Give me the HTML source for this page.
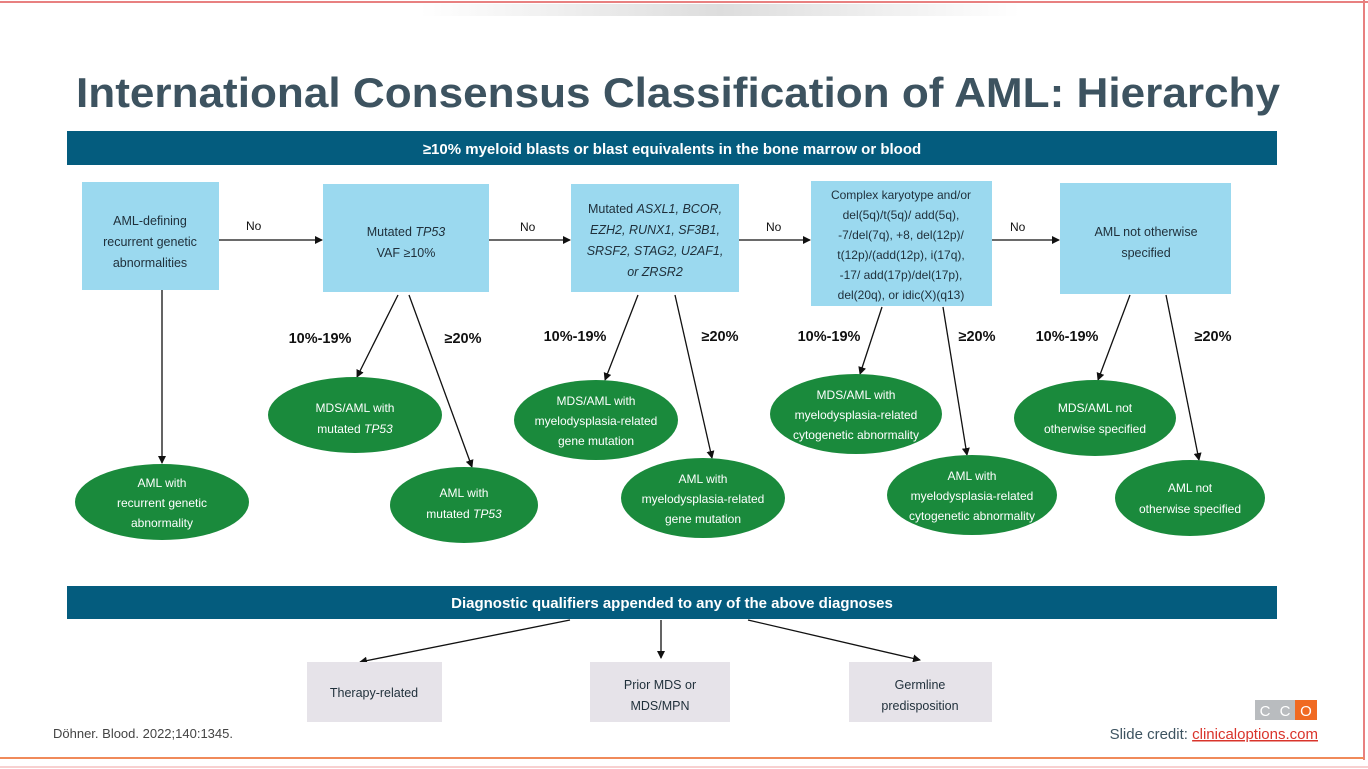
<!DOCTYPE html>
<html><head><meta charset="utf-8"><style>
html,body{margin:0;padding:0;background:#fff;}
svg{display:block;font-family:"Liberation Sans",sans-serif;}
</style></head><body>
<svg width="1368" height="769" viewBox="0 0 1368 769" xmlns="http://www.w3.org/2000/svg">
<defs>
<marker id="a" markerWidth="8" markerHeight="8" refX="7" refY="4" orient="auto" markerUnits="userSpaceOnUse"><path d="M0,0 L8,4 L0,8 z" fill="#111"/></marker>
<linearGradient id="g" x1="0" x2="1"><stop offset="0" stop-color="#fff"/><stop offset="0.5" stop-color="#ddd"/><stop offset="1" stop-color="#fff"/></linearGradient>
</defs>
<rect x="0" y="0" width="1368" height="769" fill="#fff"/>
<rect x="420" y="4" width="600" height="12" fill="url(#g)"/>
<line x1="0" y1="2" x2="1368" y2="2" stroke="#e88080" stroke-width="2"/>
<line x1="1364" y1="0" x2="1364" y2="760" stroke="#e88080" stroke-width="2"/>
<line x1="0" y1="758" x2="1364" y2="758" stroke="#f08a5a" stroke-width="2"/>
<line x1="0" y1="767" x2="1368" y2="767" stroke="#f0a0a0" stroke-width="1"/>

<text x="76" y="107" textLength="1204" lengthAdjust="spacingAndGlyphs" font-size="42" font-weight="bold" fill="#3d5360">International Consensus Classification of AML: Hierarchy</text>

<rect x="67" y="131" width="1210" height="34" fill="#045c7e"/>
<text x="672" y="154" text-anchor="middle" font-size="15" font-weight="bold" fill="#fff">≥10% myeloid blasts or blast equivalents in the bone marrow or blood</text>

<g fill="#9bd9ef">
<rect x="82" y="182" width="137" height="108"/>
<rect x="323" y="184" width="166" height="108"/>
<rect x="571" y="184" width="168" height="108"/>
<rect x="811" y="181" width="181" height="125"/>
<rect x="1060" y="183" width="171" height="111"/>
</g>
<g font-size="12.5" fill="#1f2f3a" text-anchor="middle">
<text x="150" y="225">AML-defining</text><text x="150" y="246">recurrent genetic</text><text x="150" y="267">abnormalities</text>
<text x="406" y="236">Mutated <tspan font-style="italic">TP53</tspan></text><text x="406" y="257">VAF ≥10%</text>
<text x="655" y="213">Mutated <tspan font-style="italic">ASXL1, BCOR,</tspan></text>
<text x="655" y="234" font-style="italic">EZH2, RUNX1, SF3B1,</text>
<text x="655" y="255" font-style="italic">SRSF2, STAG2, U2AF1,</text>
<text x="655" y="276"><tspan font-style="italic">or ZRSR2</tspan></text>
<g font-size="12"><text x="901" y="199">Complex karyotype and/or</text>
<text x="901" y="219">del(5q)/t(5q)/ add(5q),</text>
<text x="901" y="239">-7/del(7q), +8, del(12p)/</text>
<text x="901" y="259">t(12p)/(add(12p), i(17q),</text>
<text x="901" y="279">-17/ add(17p)/del(17p),</text>
<text x="901" y="299">del(20q), or idic(X)(q13)</text></g>
<text x="1146" y="236">AML not otherwise</text><text x="1146" y="257">specified</text>
</g>

<g stroke="#111" stroke-width="1.3" marker-end="url(#a)" fill="none">
<line x1="219" y1="240" x2="322" y2="240"/>
<line x1="489" y1="240" x2="570" y2="240"/>
<line x1="739" y1="240" x2="810" y2="240"/>
<line x1="992" y1="240" x2="1059" y2="240"/>
<line x1="162" y1="290" x2="162" y2="463"/>
<line x1="398" y1="295" x2="357" y2="377"/>
<line x1="409" y1="295" x2="472" y2="467"/>
<line x1="638" y1="295" x2="605" y2="380"/>
<line x1="675" y1="295" x2="712" y2="458"/>
<line x1="882" y1="307" x2="860" y2="374"/>
<line x1="943" y1="307" x2="967" y2="455"/>
<line x1="1130" y1="295" x2="1098" y2="380"/>
<line x1="1166" y1="295" x2="1199" y2="460"/>
<line x1="570" y1="620" x2="360" y2="662"/>
<line x1="661" y1="620" x2="661" y2="658"/>
<line x1="748" y1="620" x2="920" y2="660"/>
</g>
<g font-size="12" fill="#111">
<text x="246" y="230">No</text><text x="520" y="231">No</text><text x="766" y="231">No</text><text x="1010" y="231">No</text>
</g>
<g font-size="14.5" font-weight="bold" fill="#111" text-anchor="middle">
<text x="320" y="343">10%-19%</text><text x="463" y="343">≥20%</text>
<text x="575" y="341">10%-19%</text><text x="720" y="341">≥20%</text>
<text x="829" y="341">10%-19%</text><text x="977" y="341">≥20%</text>
<text x="1067" y="341">10%-19%</text><text x="1213" y="341">≥20%</text>
</g>

<g fill="#1a8a3c">
<ellipse cx="162" cy="502" rx="87" ry="38"/>
<ellipse cx="355" cy="415" rx="87" ry="38"/>
<ellipse cx="464" cy="505" rx="74" ry="38"/>
<ellipse cx="596" cy="420" rx="82" ry="40"/>
<ellipse cx="703" cy="498" rx="82" ry="40"/>
<ellipse cx="856" cy="414" rx="86" ry="40"/>
<ellipse cx="972" cy="495" rx="85" ry="40"/>
<ellipse cx="1095" cy="418" rx="81" ry="38"/>
<ellipse cx="1190" cy="498" rx="75" ry="38"/>
</g>
<g font-size="12" fill="#fff" text-anchor="middle">
<text x="162" y="487">AML with</text><text x="162" y="507">recurrent genetic</text><text x="162" y="527">abnormality</text>
<text x="355" y="412">MDS/AML with</text><text x="355" y="433">mutated <tspan font-style="italic">TP53</tspan></text>
<text x="464" y="497">AML with</text><text x="464" y="518">mutated <tspan font-style="italic">TP53</tspan></text>
<text x="596" y="405">MDS/AML with</text><text x="596" y="425">myelodysplasia-related</text><text x="596" y="445">gene mutation</text>
<text x="703" y="483">AML with</text><text x="703" y="503">myelodysplasia-related</text><text x="703" y="523">gene mutation</text>
<text x="856" y="399">MDS/AML with</text><text x="856" y="419">myelodysplasia-related</text><text x="856" y="439">cytogenetic abnormality</text>
<text x="972" y="480">AML with</text><text x="972" y="500">myelodysplasia-related</text><text x="972" y="520">cytogenetic abnormality</text>
<text x="1095" y="412">MDS/AML not</text><text x="1095" y="433">otherwise specified</text>
<text x="1190" y="492">AML not</text><text x="1190" y="513">otherwise specified</text>
</g>

<rect x="67" y="586" width="1210" height="33" fill="#045c7e"/>
<text x="672" y="608" text-anchor="middle" font-size="15" font-weight="bold" fill="#fff">Diagnostic qualifiers appended to any of the above diagnoses</text>

<g fill="#e6e3e9">
<rect x="307" y="662" width="135" height="60"/>
<rect x="590" y="662" width="140" height="60"/>
<rect x="849" y="662" width="143" height="60"/>
</g>
<g font-size="12.5" fill="#1f2f3a" text-anchor="middle">
<text x="374" y="697">Therapy-related</text>
<text x="660" y="689">Prior MDS or</text><text x="660" y="710">MDS/MPN</text>
<text x="920" y="689">Germline</text><text x="920" y="710">predisposition</text>
</g>

<text x="53" y="738" font-size="13" fill="#444">Döhner. Blood. 2022;140:1345.</text>
<rect x="1255" y="700" width="40" height="20" fill="#b9bcbf"/>
<rect x="1295" y="700" width="22" height="20" fill="#f06a22"/>
<g font-size="15" fill="#fff" text-anchor="middle"><text x="1265" y="716">C</text><text x="1285" y="716">C</text><text x="1306" y="716">O</text></g>
<text x="1318" y="739" text-anchor="end" font-size="15" fill="#3d5360">Slide credit: <tspan fill="#d9342b" text-decoration="underline">clinicaloptions.com</tspan></text>
</svg>
</body></html>
